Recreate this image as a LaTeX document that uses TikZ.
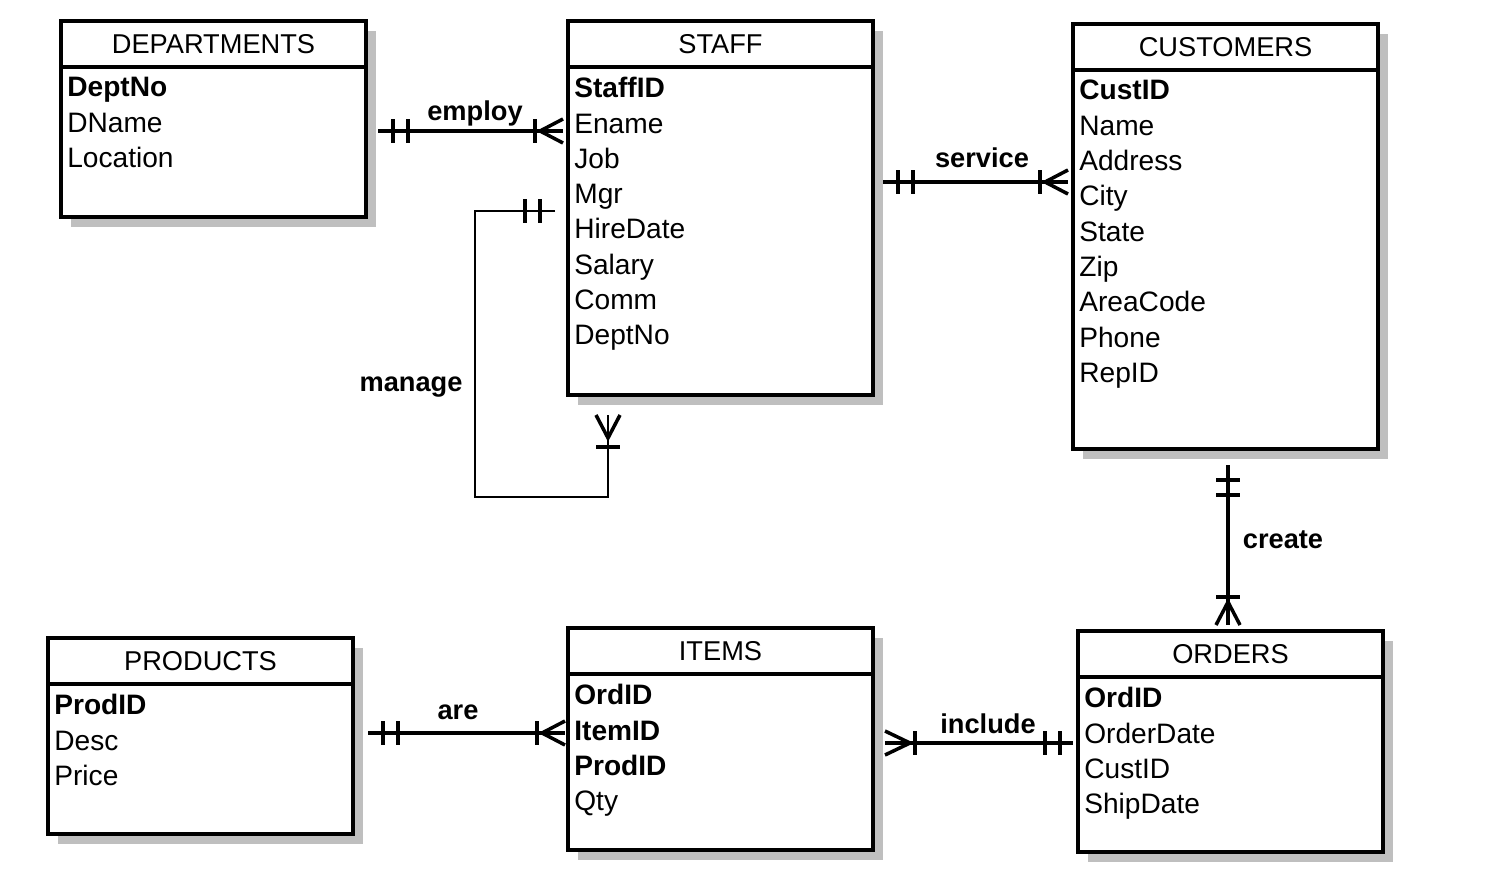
\documentclass[tikz,border=0pt]{standalone}
\usepackage{fontspec}
\setmainfont{Liberation Sans}
\begin{document}
\begin{tikzpicture}[x=0.02cm,y=-0.02cm,
  ent/.style={draw,line width=2pt,fill=white},
  shadow/.style={fill=black!25},
  hdr/.style={font=\fontsize{15.5}{18}\selectfont},
  att/.style={anchor=north west,align=left,font=\fontsize{16}{20.1}\selectfont,inner sep=0pt},
  rel/.style={line width=2pt},
  lab/.style={font=\bfseries\fontsize{15.5}{18}\selectfont,inner sep=1pt}]
\useasboundingbox (0,0) rectangle (1500,892);
\newcommand\myentity[8]{
  \fill[shadow] (#2+10,#3+10) rectangle (#4+10,#5+10);
  \draw[ent] (#2,#3) rectangle (#4,#5);
  \draw[line width=2pt] (#2,#6) -- (#4,#6);
  \node[hdr] (#1) at ({(#2+#4)/2},{(#3+#6)/2}) {#7};
  \node[att] (#1a) at (#2+6,#6+10) {#8};
}
\myentity{dept}{61}{21}{366}{217}{67}{DEPARTMENTS}{\textbf{DeptNo}\\DName\\Location}
\myentity{staff}{568}{21}{873}{395}{67}{STAFF}{\textbf{StaffID}\\Ename\\Job\\Mgr\\HireDate\\Salary\\Comm\\DeptNo}
\myentity{cust}{1073}{24}{1378}{449}{70}{CUSTOMERS}{\textbf{CustID}\\Name\\Address\\City\\State\\Zip\\AreaCode\\Phone\\RepID}
\myentity{prod}{48}{638}{353}{834}{684}{PRODUCTS}{\textbf{ProdID}\\Desc\\Price}
\myentity{items}{568}{628}{873}{850}{674}{ITEMS}{\textbf{OrdID}\\\textbf{ItemID}\\\textbf{ProdID}\\Qty}
\myentity{orders}{1078}{631}{1383}{852}{677}{ORDERS}{\textbf{OrdID}\\OrderDate\\CustID\\ShipDate}
\newcommand\myhbar[2]{\draw[rel] (#1,#2-12) -- (#1,#2+12);}
\newcommand\myvbar[2]{\draw[rel] (#1-12,#2) -- (#1+12,#2);}
% employ
\coordinate (e1) at (378,131); \coordinate (e2) at (563,131);
\draw[rel] (e1) -- (e2);
\myhbar{393}{131}\myhbar{408}{131}
\myhbar{535}{131}\draw[rel] (563,119) -- (540,131) -- (563,143);
\node[lab] at (475,113) {employ};
% service
\coordinate (s1) at (883,182); \coordinate (s2) at (1068,182);
\draw[rel] (s1) -- (s2);
\myhbar{898}{182}\myhbar{913}{182}
\myhbar{1040}{182}\draw[rel] (1068,170) -- (1045,182) -- (1068,194);
\node[lab] at (982,158) {service};
% manage
\coordinate (m1) at (555,211); \coordinate (m2) at (608,415);
\draw[line width=1.5pt] (m1) -- (475,211) -- (475,497) -- (608,497) -- (m2);
\myhbar{525}{211}\myhbar{540}{211}
\myvbar{608}{447}\draw[rel] (596,415) -- (608,438) -- (620,415);
\node[lab] at (411,387) {manage};
% create
\coordinate (c1) at (1228,465); \coordinate (c2) at (1228,625);
\draw[rel] (c1) -- (c2);
\myvbar{1228}{480}\myvbar{1228}{495}
\myvbar{1228}{597}\draw[rel] (1216,625) -- (1228,602) -- (1240,625);
\node[lab] at (1283,540) {create};
% are
\coordinate (a1) at (368,733); \coordinate (a2) at (565,733);
\draw[rel] (a1) -- (a2);
\myhbar{383}{733}\myhbar{398}{733}
\myhbar{537}{733}\draw[rel] (565,721) -- (542,733) -- (565,745);
\node[lab] at (458,712) {are};
% include
\coordinate (i1) at (885,743); \coordinate (i2) at (1073,743);
\draw[rel] (i1) -- (i2);
\myhbar{915}{743}\draw[rel] (885,731) -- (910,743) -- (885,755);
\myhbar{1045}{743}\myhbar{1060}{743}
\node[lab] at (988,724) {include};
\end{tikzpicture}
\end{document}
